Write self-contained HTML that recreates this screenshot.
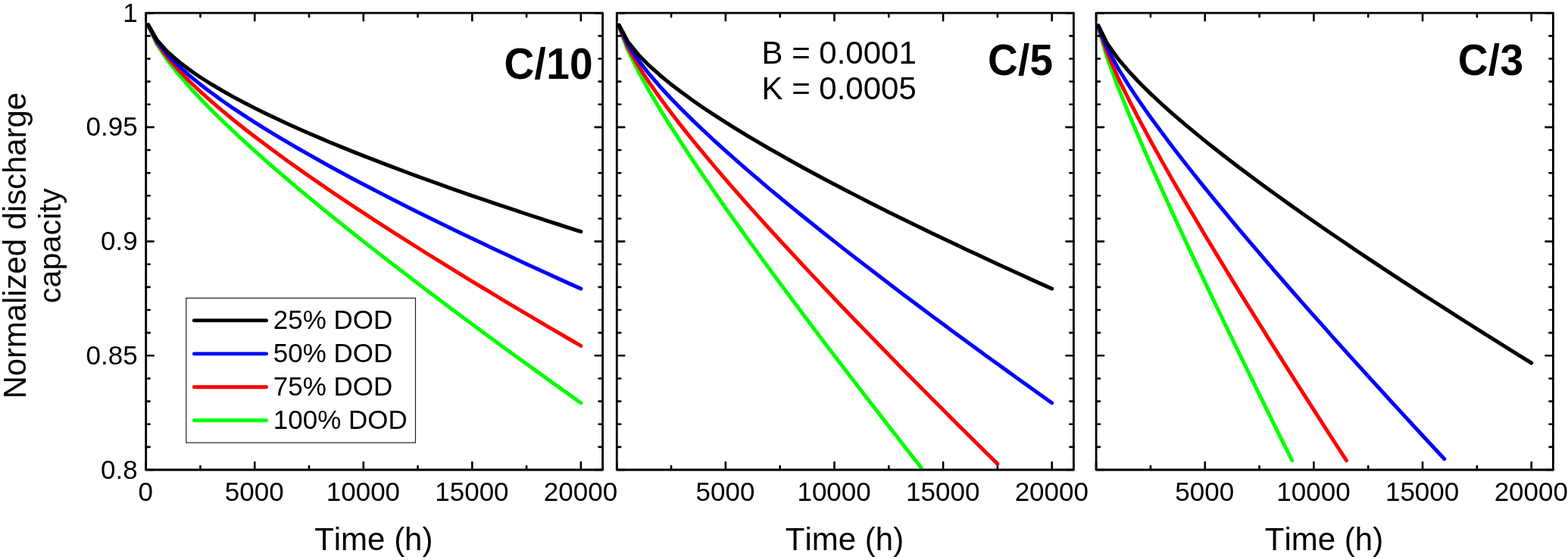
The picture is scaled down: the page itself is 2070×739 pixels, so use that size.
<!DOCTYPE html>
<html lang="en"><head><meta charset="utf-8"><title>Normalized discharge capacity vs time</title>
<style>html,body{margin:0;padding:0;background:#fff}body{width:2070px;height:739px;overflow:hidden}svg{display:block}text{font-family:"Liberation Sans",Arial,Helvetica,sans-serif;fill:#000;font-kerning:none}</style></head><body>
<svg width="2070" height="739" viewBox="0 0 2070 739">
<rect width="2070" height="739" fill="#fff"/>
<g fill="none" stroke-width="5" stroke-linecap="round" stroke-linejoin="round">
<polyline stroke="#00ff00" points="195.6,33.8 207.1,58.4 221.4,79.9 235.8,98.2 250.1,114.7 264.5,130.2 278.8,145.0 293.2,159.1 307.5,172.8 321.9,186.1 336.2,199.1 350.6,211.8 365.0,224.4 379.3,236.7 393.7,248.8 408.0,260.7 422.4,272.6 436.7,284.2 451.1,295.8 465.4,307.2 479.8,318.6 494.2,329.9 508.5,341.0 522.9,352.1 537.2,363.1 551.6,374.1 565.9,384.9 580.3,395.7 594.6,406.5 609.0,417.2 623.3,427.8 637.7,438.4 652.1,448.9 666.4,459.4 680.8,469.9 695.1,480.3 709.5,490.6 723.8,501.0 738.2,511.3 752.5,521.5 766.9,531.7"/>
<polyline stroke="#ff0000" points="195.6,33.4 207.1,56.5 221.4,76.2 235.8,92.5 250.1,107.2 264.5,120.8 278.8,133.6 293.2,145.9 307.5,157.7 321.9,169.2 336.2,180.3 350.6,191.1 365.0,201.7 379.3,212.2 393.7,222.4 408.0,232.5 422.4,242.4 436.7,252.2 451.1,261.9 465.4,271.5 479.8,280.9 494.2,290.3 508.5,299.6 522.9,308.8 537.2,317.9 551.6,327.0 565.9,336.0 580.3,344.9 594.6,353.7 609.0,362.6 623.3,371.3 637.7,380.0 652.1,388.7 666.4,397.3 680.8,405.8 695.1,414.4 709.5,422.8 723.8,431.3 738.2,439.7 752.5,448.0 766.9,456.4"/>
<polyline stroke="#0000ff" points="195.6,33.0 207.1,54.7 221.4,72.4 235.8,86.9 250.1,99.7 264.5,111.4 278.8,122.3 293.2,132.7 307.5,142.7 321.9,152.2 336.2,161.4 350.6,170.4 365.0,179.1 379.3,187.7 393.7,196.0 408.0,204.2 422.4,212.3 436.7,220.2 451.1,228.0 465.4,235.7 479.8,243.3 494.2,250.7 508.5,258.1 522.9,265.5 537.2,272.7 551.6,279.9 565.9,287.0 580.3,294.0 594.6,301.0 609.0,307.9 623.3,314.8 637.7,321.6 652.1,328.4 666.4,335.1 680.8,341.8 695.1,348.4 709.5,355.0 723.8,361.6 738.2,368.1 752.5,374.6 766.9,381.0"/>
<polyline stroke="#000000" points="195.6,32.6 207.1,52.8 221.4,68.6 235.8,81.2 250.1,92.1 264.5,102.0 278.8,111.0 293.2,119.5 307.5,127.6 321.9,135.2 336.2,142.6 350.6,149.7 365.0,156.5 379.3,163.2 393.7,169.7 408.0,176.0 422.4,182.1 436.7,188.2 451.1,194.1 465.4,199.9 479.8,205.6 494.2,211.2 508.5,216.7 522.9,222.1 537.2,227.5 551.6,232.8 565.9,238.0 580.3,243.2 594.6,248.3 609.0,253.3 623.3,258.3 637.7,263.2 652.1,268.1 666.4,272.9 680.8,277.7 695.1,282.5 709.5,287.2 723.8,291.9 738.2,296.5 752.5,301.1 766.9,305.7"/>
</g>
<path d="M192.70 17.20h10.00M795.60 17.20h-10.00M192.70 47.34h5.00M795.60 47.34h-5.00M192.70 77.48h5.00M795.60 77.48h-5.00M192.70 107.62h5.00M795.60 107.62h-5.00M192.70 137.76h5.00M795.60 137.76h-5.00M192.70 167.90h10.00M795.60 167.90h-10.00M192.70 198.04h5.00M795.60 198.04h-5.00M192.70 228.18h5.00M795.60 228.18h-5.00M192.70 258.32h5.00M795.60 258.32h-5.00M192.70 288.46h5.00M795.60 288.46h-5.00M192.70 318.60h10.00M795.60 318.60h-10.00M192.70 348.74h5.00M795.60 348.74h-5.00M192.70 378.88h5.00M795.60 378.88h-5.00M192.70 409.02h5.00M795.60 409.02h-5.00M192.70 439.16h5.00M795.60 439.16h-5.00M192.70 469.30h10.00M795.60 469.30h-10.00M192.70 499.44h5.00M795.60 499.44h-5.00M192.70 529.58h5.00M795.60 529.58h-5.00M192.70 559.72h5.00M795.60 559.72h-5.00M192.70 589.86h5.00M795.60 589.86h-5.00M192.70 620.00h10.00M795.60 620.00h-10.00M192.70 620.00v-10.00M192.70 17.20v10.00M264.47 620.00v-5.00M264.47 17.20v5.00M336.25 620.00v-10.00M336.25 17.20v10.00M408.02 620.00v-5.00M408.02 17.20v5.00M479.80 620.00v-10.00M479.80 17.20v10.00M551.57 620.00v-5.00M551.57 17.20v5.00M623.34 620.00v-10.00M623.34 17.20v10.00M695.12 620.00v-5.00M695.12 17.20v5.00M766.89 620.00v-10.00M766.89 17.20v10.00" stroke="#000" stroke-width="2.6" fill="none" stroke-linecap="round"/>
<rect x="192.70" y="17.20" width="602.90" height="602.80" fill="none" stroke="#000" stroke-width="2.8" stroke-linejoin="round"/>
<g font-size="35" text-anchor="middle">
<text transform="translate(192.3 660.7) scale(1 1.025)">0</text>
<text transform="translate(335.8 660.7) scale(1 1.025)">5000</text>
<text transform="translate(479.4 660.7) scale(1 1.025)">10000</text>
<text transform="translate(622.9 660.7) scale(1 1.025)">15000</text>
<text transform="translate(766.5 660.7) scale(1 1.025)">20000</text>
</g>
<text x="493.3" y="726.3" font-size="42" text-anchor="middle">Time (h)</text>
<g fill="none" stroke-width="5" stroke-linecap="round" stroke-linejoin="round">
<polyline stroke="#00ff00" points="817.2,35.3 828.7,66.0 843.0,95.0 857.4,120.8 871.7,144.9 886.1,167.9 900.5,190.2 914.8,211.8 929.2,233.1 943.5,253.9 957.9,274.5 972.3,294.7 986.6,314.8 1001.0,334.6 1015.3,354.3 1029.7,373.8 1044.1,393.1 1058.4,412.3 1072.8,431.4 1087.1,450.4 1101.5,469.3 1115.8,488.1 1130.2,506.8 1144.6,525.4 1158.9,544.0 1173.3,562.4 1187.6,580.8 1202.0,599.2 1216.4,617.5"/>
<polyline stroke="#ff0000" points="817.2,34.5 828.7,62.2 843.0,87.5 857.4,109.5 871.7,129.8 886.1,149.1 900.5,167.6 914.8,185.5 929.2,202.9 943.5,220.0 957.9,236.8 972.3,253.3 986.6,269.6 1001.0,285.6 1015.3,301.5 1029.7,317.2 1044.1,332.8 1058.4,348.3 1072.8,363.6 1087.1,378.8 1101.5,393.9 1115.8,409.0 1130.2,423.9 1144.6,438.8 1158.9,453.5 1173.3,468.3 1187.6,482.9 1202.0,497.5 1216.4,512.0 1230.7,526.4 1245.1,540.8 1259.4,555.2 1273.8,569.5 1288.2,583.8 1302.5,598.0 1316.9,612.1"/>
<polyline stroke="#0000ff" points="817.2,33.8 828.7,58.4 843.0,79.9 857.4,98.2 871.7,114.7 886.1,130.2 900.5,145.0 914.8,159.1 929.2,172.8 943.5,186.1 957.9,199.1 972.3,211.8 986.6,224.4 1001.0,236.7 1015.3,248.8 1029.7,260.7 1044.1,272.6 1058.4,284.2 1072.8,295.8 1087.1,307.2 1101.5,318.6 1115.8,329.9 1130.2,341.0 1144.6,352.1 1158.9,363.1 1173.3,374.1 1187.6,384.9 1202.0,395.7 1216.4,406.5 1230.7,417.2 1245.1,427.8 1259.4,438.4 1273.8,448.9 1288.2,459.4 1302.5,469.9 1316.9,480.3 1331.2,490.6 1345.6,501.0 1360.0,511.3 1374.3,521.5 1388.7,531.7"/>
<polyline stroke="#000000" points="817.2,33.0 828.7,54.7 843.0,72.4 857.4,86.9 871.7,99.7 886.1,111.4 900.5,122.3 914.8,132.7 929.2,142.7 943.5,152.2 957.9,161.4 972.3,170.4 986.6,179.1 1001.0,187.7 1015.3,196.0 1029.7,204.2 1044.1,212.3 1058.4,220.2 1072.8,228.0 1087.1,235.7 1101.5,243.3 1115.8,250.7 1130.2,258.1 1144.6,265.5 1158.9,272.7 1173.3,279.9 1187.6,287.0 1202.0,294.0 1216.4,301.0 1230.7,307.9 1245.1,314.8 1259.4,321.6 1273.8,328.4 1288.2,335.1 1302.5,341.8 1316.9,348.4 1331.2,355.0 1345.6,361.6 1360.0,368.1 1374.3,374.6 1388.7,381.0"/>
</g>
<path d="M814.30 17.20h10.00M1417.40 17.20h-10.00M814.30 47.34h5.00M1417.40 47.34h-5.00M814.30 77.48h5.00M1417.40 77.48h-5.00M814.30 107.62h5.00M1417.40 107.62h-5.00M814.30 137.76h5.00M1417.40 137.76h-5.00M814.30 167.90h10.00M1417.40 167.90h-10.00M814.30 198.04h5.00M1417.40 198.04h-5.00M814.30 228.18h5.00M1417.40 228.18h-5.00M814.30 258.32h5.00M1417.40 258.32h-5.00M814.30 288.46h5.00M1417.40 288.46h-5.00M814.30 318.60h10.00M1417.40 318.60h-10.00M814.30 348.74h5.00M1417.40 348.74h-5.00M814.30 378.88h5.00M1417.40 378.88h-5.00M814.30 409.02h5.00M1417.40 409.02h-5.00M814.30 439.16h5.00M1417.40 439.16h-5.00M814.30 469.30h10.00M1417.40 469.30h-10.00M814.30 499.44h5.00M1417.40 499.44h-5.00M814.30 529.58h5.00M1417.40 529.58h-5.00M814.30 559.72h5.00M1417.40 559.72h-5.00M814.30 589.86h5.00M1417.40 589.86h-5.00M814.30 620.00h10.00M1417.40 620.00h-10.00M814.30 620.00v-10.00M814.30 17.20v10.00M886.10 620.00v-5.00M886.10 17.20v5.00M957.90 620.00v-10.00M957.90 17.20v10.00M1029.69 620.00v-5.00M1029.69 17.20v5.00M1101.49 620.00v-10.00M1101.49 17.20v10.00M1173.29 620.00v-5.00M1173.29 17.20v5.00M1245.09 620.00v-10.00M1245.09 17.20v10.00M1316.88 620.00v-5.00M1316.88 17.20v5.00M1388.68 620.00v-10.00M1388.68 17.20v10.00" stroke="#000" stroke-width="2.6" fill="none" stroke-linecap="round"/>
<rect x="814.30" y="17.20" width="603.10" height="602.80" fill="none" stroke="#000" stroke-width="2.8" stroke-linejoin="round"/>
<g font-size="35" text-anchor="middle">
<text transform="translate(957.5 660.7) scale(1 1.025)">5000</text>
<text transform="translate(1101.1 660.7) scale(1 1.025)">10000</text>
<text transform="translate(1244.7 660.7) scale(1 1.025)">15000</text>
<text transform="translate(1388.3 660.7) scale(1 1.025)">20000</text>
</g>
<text x="1115.0" y="726.3" font-size="42" text-anchor="middle">Time (h)</text>
<g fill="none" stroke-width="5" stroke-linecap="round" stroke-linejoin="round">
<polyline stroke="#00ff00" points="1450.0,37.2 1461.5,75.8 1475.8,114.6 1490.2,150.2 1504.6,184.1 1518.9,216.9 1533.3,248.9 1547.6,280.4 1562.0,311.4 1576.4,342.1 1590.7,372.4 1605.1,402.5 1619.5,432.3 1633.8,461.9 1648.2,491.4 1662.6,520.7 1676.9,549.8 1691.3,578.9 1705.7,607.7"/>
<polyline stroke="#ff0000" points="1450.0,36.0 1461.5,69.5 1475.8,102.2 1490.2,131.5 1504.6,159.2 1518.9,185.8 1533.3,211.6 1547.6,236.9 1562.0,261.7 1576.4,286.1 1590.7,310.3 1605.1,334.1 1619.5,357.7 1633.8,381.1 1648.2,404.4 1662.6,427.4 1676.9,450.4 1691.3,473.2 1705.7,495.9 1720.0,518.4 1734.4,540.9 1748.8,563.3 1763.1,585.5 1777.5,607.7"/>
<polyline stroke="#0000ff" points="1450.0,34.8 1461.5,63.3 1475.8,89.7 1490.2,112.9 1504.6,134.3 1518.9,154.7 1533.3,174.3 1547.6,193.4 1562.0,212.0 1576.4,230.2 1590.7,248.1 1605.1,265.7 1619.5,283.1 1633.8,300.3 1648.2,317.3 1662.6,334.2 1676.9,350.9 1691.3,367.5 1705.7,384.0 1720.0,400.3 1734.4,416.6 1748.8,432.7 1763.1,448.8 1777.5,464.8 1791.8,480.7 1806.2,496.5 1820.6,512.3 1834.9,528.0 1849.3,543.6 1863.7,559.2 1878.0,574.8 1892.4,590.2 1906.8,605.7"/>
<polyline stroke="#000000" points="1450.0,33.5 1461.5,57.1 1475.8,77.3 1490.2,94.2 1504.6,109.5 1518.9,123.6 1533.3,137.0 1547.6,149.9 1562.0,162.2 1576.4,174.2 1590.7,185.9 1605.1,197.3 1619.5,208.5 1633.8,219.5 1648.2,230.3 1662.6,241.0 1676.9,251.5 1691.3,261.8 1705.7,272.1 1720.0,282.2 1734.4,292.2 1748.8,302.2 1763.1,312.0 1777.5,321.8 1791.8,331.5 1806.2,341.1 1820.6,350.7 1834.9,360.1 1849.3,369.6 1863.7,378.9 1878.0,388.3 1892.4,397.5 1906.8,406.7 1921.1,415.9 1935.5,425.0 1949.9,434.1 1964.2,443.2 1978.6,452.2 1992.9,461.1 2007.3,470.1 2021.7,479.0"/>
</g>
<path d="M1447.10 17.20h10.00M2050.40 17.20h-10.00M1447.10 47.34h5.00M2050.40 47.34h-5.00M1447.10 77.48h5.00M2050.40 77.48h-5.00M1447.10 107.62h5.00M2050.40 107.62h-5.00M1447.10 137.76h5.00M2050.40 137.76h-5.00M1447.10 167.90h10.00M2050.40 167.90h-10.00M1447.10 198.04h5.00M2050.40 198.04h-5.00M1447.10 228.18h5.00M2050.40 228.18h-5.00M1447.10 258.32h5.00M2050.40 258.32h-5.00M1447.10 288.46h5.00M2050.40 288.46h-5.00M1447.10 318.60h10.00M2050.40 318.60h-10.00M1447.10 348.74h5.00M2050.40 348.74h-5.00M1447.10 378.88h5.00M2050.40 378.88h-5.00M1447.10 409.02h5.00M2050.40 409.02h-5.00M1447.10 439.16h5.00M2050.40 439.16h-5.00M1447.10 469.30h10.00M2050.40 469.30h-10.00M1447.10 499.44h5.00M2050.40 499.44h-5.00M1447.10 529.58h5.00M2050.40 529.58h-5.00M1447.10 559.72h5.00M2050.40 559.72h-5.00M1447.10 589.86h5.00M2050.40 589.86h-5.00M1447.10 620.00h10.00M2050.40 620.00h-10.00M1447.10 620.00v-10.00M1447.10 17.20v10.00M1518.92 620.00v-5.00M1518.92 17.20v5.00M1590.74 620.00v-10.00M1590.74 17.20v10.00M1662.56 620.00v-5.00M1662.56 17.20v5.00M1734.39 620.00v-10.00M1734.39 17.20v10.00M1806.21 620.00v-5.00M1806.21 17.20v5.00M1878.03 620.00v-10.00M1878.03 17.20v10.00M1949.85 620.00v-5.00M1949.85 17.20v5.00M2021.67 620.00v-10.00M2021.67 17.20v10.00" stroke="#000" stroke-width="2.6" fill="none" stroke-linecap="round"/>
<rect x="1447.10" y="17.20" width="603.30" height="602.80" fill="none" stroke="#000" stroke-width="2.8" stroke-linejoin="round"/>
<g font-size="35" text-anchor="middle">
<text transform="translate(1590.3 660.7) scale(1 1.025)">5000</text>
<text transform="translate(1734.0 660.7) scale(1 1.025)">10000</text>
<text transform="translate(1877.6 660.7) scale(1 1.025)">15000</text>
<text transform="translate(2021.3 660.7) scale(1 1.025)">20000</text>
</g>
<text x="1748.0" y="726.3" font-size="42" text-anchor="middle">Time (h)</text>
<g font-size="35" text-anchor="end">
<text transform="translate(181.7 28.7) scale(1 1.025)">1</text>
<text transform="translate(181.7 179.4) scale(1 1.025)">0.95</text>
<text transform="translate(181.7 330.1) scale(1 1.025)">0.9</text>
<text transform="translate(181.7 480.8) scale(1 1.025)">0.85</text>
<text transform="translate(181.7 631.5) scale(1 1.025)">0.8</text>
</g>
<g font-size="41.8" text-anchor="middle">
<text transform="translate(34 324.2) rotate(-90)">Normalized discharge</text>
<text transform="translate(80.3 324.3) rotate(-90)" font-size="41.4">capacity</text>
</g>
<g font-size="55" font-weight="bold" letter-spacing="0.3">
<text transform="translate(665.6 103.9) scale(1 1.03)">C/10</text>
<text transform="translate(1304.0 98.9) scale(1 1.03)">C/5</text>
<text transform="translate(1924.8 98.5) scale(1 1.03)">C/3</text>
</g>
<g font-size="42">
<text transform="translate(1005.5 84.3) scale(1 1.025)">B = 0.0001</text>
<text transform="translate(1005.5 131.1) scale(1 1.025)">K = 0.0005</text>
</g>
<rect x="245.8" y="393.4" width="302.7" height="190.8" fill="#fff" stroke="#222" stroke-width="1.2"/>
<g fill="none" stroke-width="4.9" stroke-linecap="round">
<line x1="256.3" y1="422.9" x2="351.6" y2="422.9" stroke="#000000"/>
<line x1="256.3" y1="466.9" x2="351.6" y2="466.9" stroke="#0000ff"/>
<line x1="256.3" y1="510.8" x2="351.6" y2="510.8" stroke="#ff0000"/>
<line x1="256.3" y1="554.8" x2="351.6" y2="554.8" stroke="#00ff00"/>
</g>
<g font-size="35">
<text transform="translate(360.8 434.2) scale(1 1.025)">25% DOD</text>
<text transform="translate(360.8 478.2) scale(1 1.025)">50% DOD</text>
<text transform="translate(360.8 522.1) scale(1 1.025)">75% DOD</text>
<text transform="translate(360.8 566.1) scale(1 1.025)">100% DOD</text>
</g>
</svg></body></html>
